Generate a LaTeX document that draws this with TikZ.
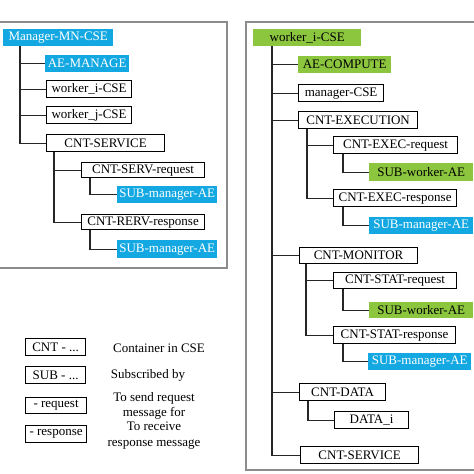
\documentclass[tikz,border=0pt]{standalone}
\usepackage{fontspec}
\setmainfont{Liberation Serif}
\definecolor{ablue}{RGB}{20,168,226}
\definecolor{agreen}{RGB}{140,198,63}
\definecolor{framegray}{RGB}{140,140,140}
\begin{document}
\begin{tikzpicture}[x=1pt,y=-1pt,
  every node/.style={font=\rmfamily\fontsize{13}{15}\selectfont, inner sep=0pt, anchor=north west},
  wbox/.style={draw=black, line width=1.2pt, fill=white},
  bbox/.style={fill=ablue, text=white},
  gbox/.style={fill=agreen, text=black},
  conn/.style={draw=black!85, line width=1.1pt},
  frame/.style={draw=framegray, line width=2.2pt}]
\useasboundingbox (0,0) rectangle (474,474);
% frames
\draw[frame] (-2,22) rectangle (227,268);
\draw[frame] (246,22) rectangle (480,470);

% left panel
\node[bbox, minimum width=110pt, minimum height=17pt] (m) at (3,29) {Manager-MN-CSE};
\node[bbox, minimum width=84pt, minimum height=17pt] (ae) at (45,55) {AE-MANAGE};
\node[wbox, minimum width=85pt, minimum height=17pt] (wi) at (46,80) {worker\_i-CSE};
\node[wbox, minimum width=85pt, minimum height=17pt] (wj) at (46,106) {worker\_j-CSE};
\node[wbox, minimum width=118pt, minimum height=17pt] (cs) at (46,134) {CNT-SERVICE};
\node[wbox, minimum width=123pt, minimum height=15pt] (sr) at (81,162) {CNT-SERV-request};
\node[bbox, minimum width=100pt, minimum height=17pt] (sm1) at (117,186) {SUB-manager-AE};
\node[wbox, minimum width=123pt, minimum height=15pt] (rr) at (81,214) {CNT-RERV-response};
\node[bbox, minimum width=100pt, minimum height=18pt] (sm2) at (117,240) {SUB-manager-AE};

\draw[conn] ([xshift=17pt]m.south west) |- (ae.west);
\draw[conn] ([xshift=17pt]m.south west) |- (wi.west);
\draw[conn] ([xshift=17pt]m.south west) |- (wj.west);
\draw[conn] ([xshift=17pt]m.south west) |- (cs.west);
\draw[conn] ([xshift=8pt]cs.south west) |- (sr.west);
\draw[conn] ([xshift=8pt]cs.south west) |- (rr.west);
\draw[conn] ([xshift=9pt]sr.south west) |- (sm1.west);
\draw[conn] ([xshift=9pt]rr.south west) |- (sm2.west);

% legend
\node[wbox, minimum width=60pt, minimum height=17pt] (l1) at (25,338) {CNT - ...};
\node[wbox, minimum width=60pt, minimum height=17pt] (l2) at (25,366) {SUB - ...};
\node[wbox, minimum width=61pt, minimum height=16pt] (l3) at (25,397) {- request};
\node[wbox, minimum width=61pt, minimum height=17pt] (l4) at (25,425) {- response};
\node[anchor=center] (t1) at (159,348) {Container in CSE};
\node[anchor=center] (t2) at (148,375) {Subscribed by};
\node[anchor=center, align=center, font=\rmfamily\fontsize{13}{15}\selectfont] (t3) at (154,405.5) {To send request\\message for};
\node[anchor=center, align=center, font=\rmfamily\fontsize{13}{16}\selectfont] (t4) at (154,436) {To receive\\response message};

% right panel
\node[gbox, minimum width=108pt, minimum height=17pt] (w) at (253,29) {worker\_i-CSE};
\node[gbox, minimum width=93pt, minimum height=17pt] (ac) at (298,56) {AE-COMPUTE};
\node[wbox, minimum width=85pt, minimum height=17pt] (mc) at (298,84) {manager-CSE};
\node[wbox, minimum width=119pt, minimum height=17pt] (ce) at (298,111) {CNT-EXECUTION};
\node[wbox, minimum width=124pt, minimum height=17pt] (eq) at (333,136) {CNT-EXEC-request};
\node[gbox, minimum width=104pt, minimum height=18pt] (sw1) at (369,163) {SUB-worker-AE};
\node[wbox, minimum width=123pt, minimum height=17pt] (er) at (333,189) {CNT-EXEC-response};
\node[bbox, minimum width=104pt, minimum height=17pt] (sm3) at (369,217) {SUB-manager-AE};
\node[wbox, minimum width=118pt, minimum height=16pt] (cm) at (299,247) {CNT-MONITOR};
\node[wbox, minimum width=123pt, minimum height=16pt] (tq) at (333,272) {CNT-STAT-request};
\node[gbox, minimum width=104pt, minimum height=16pt] (sw2) at (369,302) {SUB-worker-AE};
\node[wbox, minimum width=122pt, minimum height=17pt] (tr) at (333,326) {CNT-STAT-response};
\node[bbox, minimum width=103pt, minimum height=17pt] (sm4) at (368,353) {SUB-manager-AE};
\node[wbox, minimum width=86pt, minimum height=17pt] (cd) at (299,383) {CNT-DATA};
\node[wbox, minimum width=74pt, minimum height=17pt] (di) at (334,411) {DATA\_i};
\node[wbox, minimum width=118pt, minimum height=17pt] (cs2) at (300,446) {CNT-SERVICE};

\draw[conn] ([xshift=19pt]w.south west) |- (ac.west);
\draw[conn] ([xshift=19pt]w.south west) |- (mc.west);
\draw[conn] ([xshift=19pt]w.south west) |- (ce.west);
\draw[conn] ([xshift=19pt]w.south west) |- (cm.west);
\draw[conn] ([xshift=19pt]w.south west) |- (cd.west);
\draw[conn] ([xshift=19pt]w.south west) |- (cs2.west);
\draw[conn] ([xshift=9pt]ce.south west) |- (eq.west);
\draw[conn] ([xshift=9pt]ce.south west) |- (er.west);
\draw[conn] ([xshift=10pt]eq.south west) |- (sw1.west);
\draw[conn] ([xshift=10pt]er.south west) |- (sm3.west);
\draw[conn] ([xshift=7pt]cm.south west) |- (tq.west);
\draw[conn] ([xshift=7pt]cm.south west) |- (tr.west);
\draw[conn] ([xshift=10pt]tq.south west) |- (sw2.west);
\draw[conn] ([xshift=10pt]tr.south west) |- (sm4.west);
\draw[conn] ([xshift=9pt]cd.south west) |- (di.west);
\end{tikzpicture}
\end{document}
